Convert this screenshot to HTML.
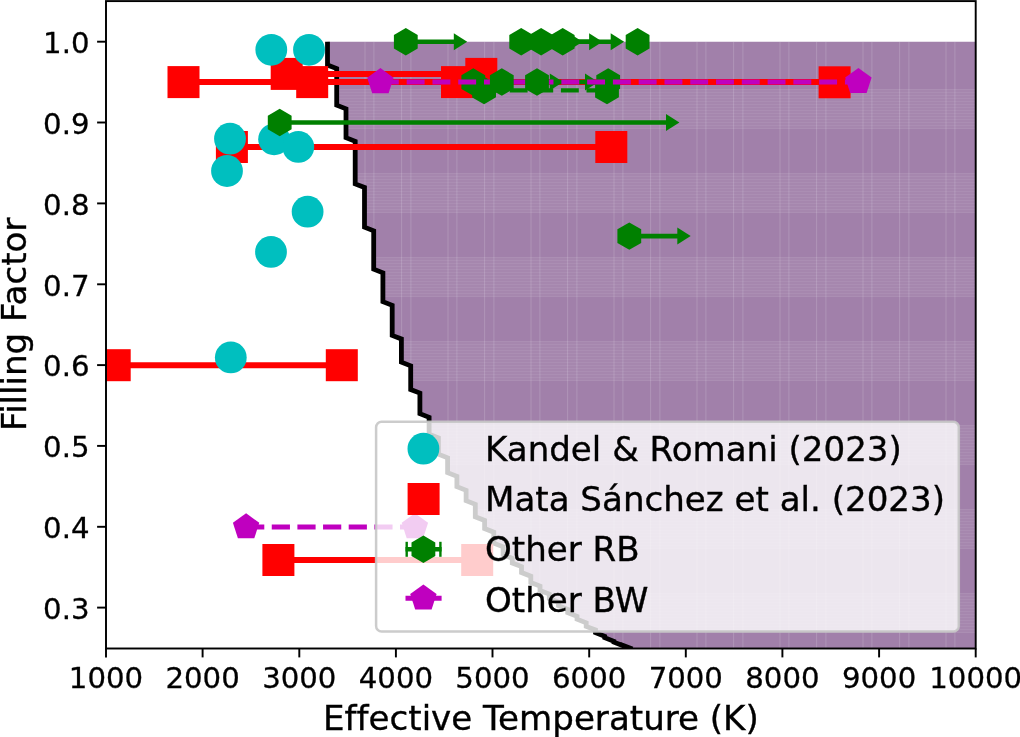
<!DOCTYPE html>
<html><head><meta charset="utf-8"><title>Filling Factor vs Effective Temperature</title>
<style>html,body{margin:0;padding:0;background:#fff}svg{display:block}</style></head>
<body>
<svg width="1020" height="737" viewBox="0 0 1020 737">
<defs>
<clipPath id="ax"><rect x="106.0" y="1.1" width="869.7" height="647.4"/></clipPath>
<clipPath id="reg"><polygon points="327.5,41.7 327.5,65.0 336.7,68.6 336.7,105.2 346.0,108.8 346.0,137.7 355.2,141.3 355.2,183.9 364.5,187.5 364.5,227.2 373.7,230.8 373.7,269.2 382.9,272.8 382.9,301.7 392.2,305.3 392.2,335.4 401.4,339.0 401.4,362.2 410.7,365.8 410.7,389.5 419.9,393.1 419.9,413.7 429.1,417.3 429.1,434.2 438.4,437.8 438.4,454.2 447.6,457.8 447.6,472.7 456.9,476.3 456.9,486.7 466.1,490.3 466.1,500.7 475.3,504.3 475.3,516.8 484.6,520.4 484.6,528.6 493.8,532.2 493.8,543.2 503.1,546.8 503.1,554.7 512.3,558.3 512.3,563.0 521.5,566.6 521.5,572.6 530.8,576.2 530.8,582.5 540.0,586.1 540.0,590.5 549.3,594.1 549.3,598.6 558.5,602.2 558.5,605.7 567.7,609.3 567.7,612.7 577.0,616.3 577.0,619.2 586.2,622.8 586.2,626.4 595.5,630.0 595.5,632.7 604.7,636.3 604.7,637.7 613.9,641.3 613.9,642.2 623.2,645.8 623.2,645.5 632.4,649.1 632.4,648.5 975.7,648.5 975.7,41.7"/></clipPath>
</defs>
<rect width="1020" height="737" fill="#fff"/>
<g clip-path="url(#ax)">
<polygon points="327.5,41.7 327.5,65.0 336.7,68.6 336.7,105.2 346.0,108.8 346.0,137.7 355.2,141.3 355.2,183.9 364.5,187.5 364.5,227.2 373.7,230.8 373.7,269.2 382.9,272.8 382.9,301.7 392.2,305.3 392.2,335.4 401.4,339.0 401.4,362.2 410.7,365.8 410.7,389.5 419.9,393.1 419.9,413.7 429.1,417.3 429.1,434.2 438.4,437.8 438.4,454.2 447.6,457.8 447.6,472.7 456.9,476.3 456.9,486.7 466.1,490.3 466.1,500.7 475.3,504.3 475.3,516.8 484.6,520.4 484.6,528.6 493.8,532.2 493.8,543.2 503.1,546.8 503.1,554.7 512.3,558.3 512.3,563.0 521.5,566.6 521.5,572.6 530.8,576.2 530.8,582.5 540.0,586.1 540.0,590.5 549.3,594.1 549.3,598.6 558.5,602.2 558.5,605.7 567.7,609.3 567.7,612.7 577.0,616.3 577.0,619.2 586.2,622.8 586.2,626.4 595.5,630.0 595.5,632.7 604.7,636.3 604.7,637.7 613.9,641.3 613.9,642.2 623.2,645.8 623.2,645.5 632.4,649.1 632.4,648.5 975.7,648.5 975.7,41.7" fill="#a180aa"/>
<g clip-path="url(#reg)" stroke="#fff" fill="none">
<line x1="365.0" y1="40" x2="365.0" y2="650" stroke-width="1" stroke-opacity="0.16"/>
<line x1="373.9" y1="40" x2="373.9" y2="650" stroke-width="1" stroke-opacity="0.16"/>
<line x1="327.9" y1="40" x2="327.9" y2="650" stroke-width="1" stroke-opacity="0.16"/>
<line x1="448.0" y1="40" x2="448.0" y2="650" stroke-width="1" stroke-opacity="0.16"/>
<line x1="456.9" y1="40" x2="456.9" y2="650" stroke-width="1" stroke-opacity="0.16"/>
<line x1="401.6" y1="40" x2="401.6" y2="650" stroke-width="1" stroke-opacity="0.16"/>
<line x1="410.9" y1="40" x2="410.9" y2="650" stroke-width="1" stroke-opacity="0.16"/>
<line x1="531.0" y1="40" x2="531.0" y2="650" stroke-width="1" stroke-opacity="0.16"/>
<line x1="539.9" y1="40" x2="539.9" y2="650" stroke-width="1" stroke-opacity="0.16"/>
<line x1="484.6" y1="40" x2="484.6" y2="650" stroke-width="1" stroke-opacity="0.16"/>
<line x1="493.9" y1="40" x2="493.9" y2="650" stroke-width="1" stroke-opacity="0.16"/>
<line x1="614.0" y1="40" x2="614.0" y2="650" stroke-width="1" stroke-opacity="0.16"/>
<line x1="622.9" y1="40" x2="622.9" y2="650" stroke-width="1" stroke-opacity="0.16"/>
<line x1="567.6" y1="40" x2="567.6" y2="650" stroke-width="1" stroke-opacity="0.16"/>
<line x1="576.9" y1="40" x2="576.9" y2="650" stroke-width="1" stroke-opacity="0.16"/>
<line x1="697.0" y1="40" x2="697.0" y2="650" stroke-width="1" stroke-opacity="0.16"/>
<line x1="705.9" y1="40" x2="705.9" y2="650" stroke-width="1" stroke-opacity="0.16"/>
<line x1="650.6" y1="40" x2="650.6" y2="650" stroke-width="1" stroke-opacity="0.16"/>
<line x1="659.9" y1="40" x2="659.9" y2="650" stroke-width="1" stroke-opacity="0.16"/>
<line x1="780.0" y1="40" x2="780.0" y2="650" stroke-width="1" stroke-opacity="0.16"/>
<line x1="788.9" y1="40" x2="788.9" y2="650" stroke-width="1" stroke-opacity="0.16"/>
<line x1="733.6" y1="40" x2="733.6" y2="650" stroke-width="1" stroke-opacity="0.16"/>
<line x1="742.9" y1="40" x2="742.9" y2="650" stroke-width="1" stroke-opacity="0.16"/>
<line x1="863.0" y1="40" x2="863.0" y2="650" stroke-width="1" stroke-opacity="0.16"/>
<line x1="871.9" y1="40" x2="871.9" y2="650" stroke-width="1" stroke-opacity="0.16"/>
<line x1="816.6" y1="40" x2="816.6" y2="650" stroke-width="1" stroke-opacity="0.16"/>
<line x1="825.9" y1="40" x2="825.9" y2="650" stroke-width="1" stroke-opacity="0.16"/>
<line x1="946.0" y1="40" x2="946.0" y2="650" stroke-width="1" stroke-opacity="0.16"/>
<line x1="954.9" y1="40" x2="954.9" y2="650" stroke-width="1" stroke-opacity="0.16"/>
<line x1="899.6" y1="40" x2="899.6" y2="650" stroke-width="1" stroke-opacity="0.16"/>
<line x1="908.9" y1="40" x2="908.9" y2="650" stroke-width="1" stroke-opacity="0.16"/>
<line x1="320" y1="89.50" x2="980" y2="89.50" stroke-width="0.5" stroke-opacity="0.22"/>
<line x1="320" y1="91.00" x2="980" y2="91.00" stroke-width="0.5" stroke-opacity="0.22"/>
<line x1="320" y1="92.50" x2="980" y2="92.50" stroke-width="0.5" stroke-opacity="0.22"/>
<line x1="320" y1="94.00" x2="980" y2="94.00" stroke-width="0.5" stroke-opacity="0.22"/>
<line x1="320" y1="95.50" x2="980" y2="95.50" stroke-width="0.5" stroke-opacity="0.22"/>
<line x1="320" y1="97.00" x2="980" y2="97.00" stroke-width="0.5" stroke-opacity="0.22"/>
<line x1="320" y1="98.50" x2="980" y2="98.50" stroke-width="0.5" stroke-opacity="0.22"/>
<line x1="320" y1="100.00" x2="980" y2="100.00" stroke-width="0.5" stroke-opacity="0.22"/>
<line x1="320" y1="101.50" x2="980" y2="101.50" stroke-width="0.5" stroke-opacity="0.22"/>
<line x1="320" y1="103.00" x2="980" y2="103.00" stroke-width="0.5" stroke-opacity="0.22"/>
<line x1="320" y1="104.50" x2="980" y2="104.50" stroke-width="0.5" stroke-opacity="0.22"/>
<line x1="320" y1="106.00" x2="980" y2="106.00" stroke-width="0.5" stroke-opacity="0.22"/>
<line x1="320" y1="107.50" x2="980" y2="107.50" stroke-width="0.5" stroke-opacity="0.22"/>
<line x1="320" y1="109.00" x2="980" y2="109.00" stroke-width="0.5" stroke-opacity="0.22"/>
<line x1="320" y1="110.50" x2="980" y2="110.50" stroke-width="0.5" stroke-opacity="0.22"/>
<line x1="320" y1="112.00" x2="980" y2="112.00" stroke-width="0.5" stroke-opacity="0.22"/>
<line x1="320" y1="113.50" x2="980" y2="113.50" stroke-width="0.5" stroke-opacity="0.22"/>
<line x1="320" y1="115.00" x2="980" y2="115.00" stroke-width="0.5" stroke-opacity="0.22"/>
<line x1="320" y1="116.50" x2="980" y2="116.50" stroke-width="0.5" stroke-opacity="0.22"/>
<line x1="320" y1="118.00" x2="980" y2="118.00" stroke-width="0.5" stroke-opacity="0.22"/>
<line x1="320" y1="119.50" x2="980" y2="119.50" stroke-width="0.5" stroke-opacity="0.22"/>
<line x1="320" y1="121.00" x2="980" y2="121.00" stroke-width="0.5" stroke-opacity="0.22"/>
<line x1="320" y1="122.50" x2="980" y2="122.50" stroke-width="0.5" stroke-opacity="0.22"/>
<line x1="320" y1="124.00" x2="980" y2="124.00" stroke-width="0.5" stroke-opacity="0.22"/>
<line x1="320" y1="125.50" x2="980" y2="125.50" stroke-width="0.5" stroke-opacity="0.22"/>
<line x1="320" y1="127.00" x2="980" y2="127.00" stroke-width="0.5" stroke-opacity="0.22"/>
<line x1="320" y1="128.50" x2="980" y2="128.50" stroke-width="0.5" stroke-opacity="0.22"/>
<line x1="320" y1="173.50" x2="980" y2="173.50" stroke-width="0.5" stroke-opacity="0.22"/>
<line x1="320" y1="175.00" x2="980" y2="175.00" stroke-width="0.5" stroke-opacity="0.22"/>
<line x1="320" y1="176.50" x2="980" y2="176.50" stroke-width="0.5" stroke-opacity="0.22"/>
<line x1="320" y1="178.00" x2="980" y2="178.00" stroke-width="0.5" stroke-opacity="0.22"/>
<line x1="320" y1="179.50" x2="980" y2="179.50" stroke-width="0.5" stroke-opacity="0.22"/>
<line x1="320" y1="181.00" x2="980" y2="181.00" stroke-width="0.5" stroke-opacity="0.22"/>
<line x1="320" y1="182.50" x2="980" y2="182.50" stroke-width="0.5" stroke-opacity="0.22"/>
<line x1="320" y1="184.00" x2="980" y2="184.00" stroke-width="0.5" stroke-opacity="0.22"/>
<line x1="320" y1="185.50" x2="980" y2="185.50" stroke-width="0.5" stroke-opacity="0.22"/>
<line x1="320" y1="187.00" x2="980" y2="187.00" stroke-width="0.5" stroke-opacity="0.22"/>
<line x1="320" y1="188.50" x2="980" y2="188.50" stroke-width="0.5" stroke-opacity="0.22"/>
<line x1="320" y1="190.00" x2="980" y2="190.00" stroke-width="0.5" stroke-opacity="0.22"/>
<line x1="320" y1="191.50" x2="980" y2="191.50" stroke-width="0.5" stroke-opacity="0.22"/>
<line x1="320" y1="193.00" x2="980" y2="193.00" stroke-width="0.5" stroke-opacity="0.22"/>
<line x1="320" y1="194.50" x2="980" y2="194.50" stroke-width="0.5" stroke-opacity="0.22"/>
<line x1="320" y1="196.00" x2="980" y2="196.00" stroke-width="0.5" stroke-opacity="0.22"/>
<line x1="320" y1="197.50" x2="980" y2="197.50" stroke-width="0.5" stroke-opacity="0.22"/>
<line x1="320" y1="199.00" x2="980" y2="199.00" stroke-width="0.5" stroke-opacity="0.22"/>
<line x1="320" y1="200.50" x2="980" y2="200.50" stroke-width="0.5" stroke-opacity="0.22"/>
<line x1="320" y1="202.00" x2="980" y2="202.00" stroke-width="0.5" stroke-opacity="0.22"/>
<line x1="320" y1="203.50" x2="980" y2="203.50" stroke-width="0.5" stroke-opacity="0.22"/>
<line x1="320" y1="205.00" x2="980" y2="205.00" stroke-width="0.5" stroke-opacity="0.22"/>
<line x1="320" y1="206.50" x2="980" y2="206.50" stroke-width="0.5" stroke-opacity="0.22"/>
<line x1="320" y1="208.00" x2="980" y2="208.00" stroke-width="0.5" stroke-opacity="0.22"/>
<line x1="320" y1="209.50" x2="980" y2="209.50" stroke-width="0.5" stroke-opacity="0.22"/>
<line x1="320" y1="211.00" x2="980" y2="211.00" stroke-width="0.5" stroke-opacity="0.22"/>
<line x1="320" y1="212.50" x2="980" y2="212.50" stroke-width="0.5" stroke-opacity="0.22"/>
<line x1="320" y1="257.50" x2="980" y2="257.50" stroke-width="0.5" stroke-opacity="0.22"/>
<line x1="320" y1="259.00" x2="980" y2="259.00" stroke-width="0.5" stroke-opacity="0.22"/>
<line x1="320" y1="260.50" x2="980" y2="260.50" stroke-width="0.5" stroke-opacity="0.22"/>
<line x1="320" y1="262.00" x2="980" y2="262.00" stroke-width="0.5" stroke-opacity="0.22"/>
<line x1="320" y1="263.50" x2="980" y2="263.50" stroke-width="0.5" stroke-opacity="0.22"/>
<line x1="320" y1="265.00" x2="980" y2="265.00" stroke-width="0.5" stroke-opacity="0.22"/>
<line x1="320" y1="266.50" x2="980" y2="266.50" stroke-width="0.5" stroke-opacity="0.22"/>
<line x1="320" y1="268.00" x2="980" y2="268.00" stroke-width="0.5" stroke-opacity="0.22"/>
<line x1="320" y1="269.50" x2="980" y2="269.50" stroke-width="0.5" stroke-opacity="0.22"/>
<line x1="320" y1="271.00" x2="980" y2="271.00" stroke-width="0.5" stroke-opacity="0.22"/>
<line x1="320" y1="272.50" x2="980" y2="272.50" stroke-width="0.5" stroke-opacity="0.22"/>
<line x1="320" y1="274.00" x2="980" y2="274.00" stroke-width="0.5" stroke-opacity="0.22"/>
<line x1="320" y1="275.50" x2="980" y2="275.50" stroke-width="0.5" stroke-opacity="0.22"/>
<line x1="320" y1="277.00" x2="980" y2="277.00" stroke-width="0.5" stroke-opacity="0.22"/>
<line x1="320" y1="278.50" x2="980" y2="278.50" stroke-width="0.5" stroke-opacity="0.22"/>
<line x1="320" y1="280.00" x2="980" y2="280.00" stroke-width="0.5" stroke-opacity="0.22"/>
<line x1="320" y1="281.50" x2="980" y2="281.50" stroke-width="0.5" stroke-opacity="0.22"/>
<line x1="320" y1="283.00" x2="980" y2="283.00" stroke-width="0.5" stroke-opacity="0.22"/>
<line x1="320" y1="284.50" x2="980" y2="284.50" stroke-width="0.5" stroke-opacity="0.22"/>
<line x1="320" y1="286.00" x2="980" y2="286.00" stroke-width="0.5" stroke-opacity="0.22"/>
<line x1="320" y1="287.50" x2="980" y2="287.50" stroke-width="0.5" stroke-opacity="0.22"/>
<line x1="320" y1="289.00" x2="980" y2="289.00" stroke-width="0.5" stroke-opacity="0.22"/>
<line x1="320" y1="290.50" x2="980" y2="290.50" stroke-width="0.5" stroke-opacity="0.22"/>
<line x1="320" y1="292.00" x2="980" y2="292.00" stroke-width="0.5" stroke-opacity="0.22"/>
<line x1="320" y1="293.50" x2="980" y2="293.50" stroke-width="0.5" stroke-opacity="0.22"/>
<line x1="320" y1="295.00" x2="980" y2="295.00" stroke-width="0.5" stroke-opacity="0.22"/>
<line x1="320" y1="296.50" x2="980" y2="296.50" stroke-width="0.5" stroke-opacity="0.22"/>
<line x1="320" y1="341.50" x2="980" y2="341.50" stroke-width="0.5" stroke-opacity="0.22"/>
<line x1="320" y1="343.00" x2="980" y2="343.00" stroke-width="0.5" stroke-opacity="0.22"/>
<line x1="320" y1="344.50" x2="980" y2="344.50" stroke-width="0.5" stroke-opacity="0.22"/>
<line x1="320" y1="346.00" x2="980" y2="346.00" stroke-width="0.5" stroke-opacity="0.22"/>
<line x1="320" y1="347.50" x2="980" y2="347.50" stroke-width="0.5" stroke-opacity="0.22"/>
<line x1="320" y1="349.00" x2="980" y2="349.00" stroke-width="0.5" stroke-opacity="0.22"/>
<line x1="320" y1="350.50" x2="980" y2="350.50" stroke-width="0.5" stroke-opacity="0.22"/>
<line x1="320" y1="352.00" x2="980" y2="352.00" stroke-width="0.5" stroke-opacity="0.22"/>
<line x1="320" y1="353.50" x2="980" y2="353.50" stroke-width="0.5" stroke-opacity="0.22"/>
<line x1="320" y1="355.00" x2="980" y2="355.00" stroke-width="0.5" stroke-opacity="0.22"/>
<line x1="320" y1="356.50" x2="980" y2="356.50" stroke-width="0.5" stroke-opacity="0.22"/>
<line x1="320" y1="358.00" x2="980" y2="358.00" stroke-width="0.5" stroke-opacity="0.22"/>
<line x1="320" y1="359.50" x2="980" y2="359.50" stroke-width="0.5" stroke-opacity="0.22"/>
<line x1="320" y1="361.00" x2="980" y2="361.00" stroke-width="0.5" stroke-opacity="0.22"/>
<line x1="320" y1="362.50" x2="980" y2="362.50" stroke-width="0.5" stroke-opacity="0.22"/>
<line x1="320" y1="364.00" x2="980" y2="364.00" stroke-width="0.5" stroke-opacity="0.22"/>
<line x1="320" y1="365.50" x2="980" y2="365.50" stroke-width="0.5" stroke-opacity="0.22"/>
<line x1="320" y1="367.00" x2="980" y2="367.00" stroke-width="0.5" stroke-opacity="0.22"/>
<line x1="320" y1="368.50" x2="980" y2="368.50" stroke-width="0.5" stroke-opacity="0.22"/>
<line x1="320" y1="370.00" x2="980" y2="370.00" stroke-width="0.5" stroke-opacity="0.22"/>
<line x1="320" y1="371.50" x2="980" y2="371.50" stroke-width="0.5" stroke-opacity="0.22"/>
<line x1="320" y1="373.00" x2="980" y2="373.00" stroke-width="0.5" stroke-opacity="0.22"/>
<line x1="320" y1="374.50" x2="980" y2="374.50" stroke-width="0.5" stroke-opacity="0.22"/>
<line x1="320" y1="376.00" x2="980" y2="376.00" stroke-width="0.5" stroke-opacity="0.22"/>
<line x1="320" y1="377.50" x2="980" y2="377.50" stroke-width="0.5" stroke-opacity="0.22"/>
<line x1="320" y1="379.00" x2="980" y2="379.00" stroke-width="0.5" stroke-opacity="0.22"/>
<line x1="320" y1="380.50" x2="980" y2="380.50" stroke-width="0.5" stroke-opacity="0.22"/>
<line x1="320" y1="425.50" x2="980" y2="425.50" stroke-width="0.5" stroke-opacity="0.22"/>
<line x1="320" y1="427.00" x2="980" y2="427.00" stroke-width="0.5" stroke-opacity="0.22"/>
<line x1="320" y1="428.50" x2="980" y2="428.50" stroke-width="0.5" stroke-opacity="0.22"/>
<line x1="320" y1="430.00" x2="980" y2="430.00" stroke-width="0.5" stroke-opacity="0.22"/>
<line x1="320" y1="431.50" x2="980" y2="431.50" stroke-width="0.5" stroke-opacity="0.22"/>
<line x1="320" y1="433.00" x2="980" y2="433.00" stroke-width="0.5" stroke-opacity="0.22"/>
<line x1="320" y1="434.50" x2="980" y2="434.50" stroke-width="0.5" stroke-opacity="0.22"/>
<line x1="320" y1="436.00" x2="980" y2="436.00" stroke-width="0.5" stroke-opacity="0.22"/>
<line x1="320" y1="437.50" x2="980" y2="437.50" stroke-width="0.5" stroke-opacity="0.22"/>
<line x1="320" y1="439.00" x2="980" y2="439.00" stroke-width="0.5" stroke-opacity="0.22"/>
<line x1="320" y1="440.50" x2="980" y2="440.50" stroke-width="0.5" stroke-opacity="0.22"/>
<line x1="320" y1="442.00" x2="980" y2="442.00" stroke-width="0.5" stroke-opacity="0.22"/>
<line x1="320" y1="443.50" x2="980" y2="443.50" stroke-width="0.5" stroke-opacity="0.22"/>
<line x1="320" y1="445.00" x2="980" y2="445.00" stroke-width="0.5" stroke-opacity="0.22"/>
<line x1="320" y1="446.50" x2="980" y2="446.50" stroke-width="0.5" stroke-opacity="0.22"/>
<line x1="320" y1="448.00" x2="980" y2="448.00" stroke-width="0.5" stroke-opacity="0.22"/>
<line x1="320" y1="449.50" x2="980" y2="449.50" stroke-width="0.5" stroke-opacity="0.22"/>
<line x1="320" y1="451.00" x2="980" y2="451.00" stroke-width="0.5" stroke-opacity="0.22"/>
<line x1="320" y1="452.50" x2="980" y2="452.50" stroke-width="0.5" stroke-opacity="0.22"/>
<line x1="320" y1="454.00" x2="980" y2="454.00" stroke-width="0.5" stroke-opacity="0.22"/>
<line x1="320" y1="455.50" x2="980" y2="455.50" stroke-width="0.5" stroke-opacity="0.22"/>
<line x1="320" y1="457.00" x2="980" y2="457.00" stroke-width="0.5" stroke-opacity="0.22"/>
<line x1="320" y1="458.50" x2="980" y2="458.50" stroke-width="0.5" stroke-opacity="0.22"/>
<line x1="320" y1="460.00" x2="980" y2="460.00" stroke-width="0.5" stroke-opacity="0.22"/>
<line x1="320" y1="461.50" x2="980" y2="461.50" stroke-width="0.5" stroke-opacity="0.22"/>
<line x1="320" y1="463.00" x2="980" y2="463.00" stroke-width="0.5" stroke-opacity="0.22"/>
<line x1="320" y1="464.50" x2="980" y2="464.50" stroke-width="0.5" stroke-opacity="0.22"/>
<line x1="320" y1="509.50" x2="980" y2="509.50" stroke-width="0.5" stroke-opacity="0.22"/>
<line x1="320" y1="511.00" x2="980" y2="511.00" stroke-width="0.5" stroke-opacity="0.22"/>
<line x1="320" y1="512.50" x2="980" y2="512.50" stroke-width="0.5" stroke-opacity="0.22"/>
<line x1="320" y1="514.00" x2="980" y2="514.00" stroke-width="0.5" stroke-opacity="0.22"/>
<line x1="320" y1="515.50" x2="980" y2="515.50" stroke-width="0.5" stroke-opacity="0.22"/>
<line x1="320" y1="517.00" x2="980" y2="517.00" stroke-width="0.5" stroke-opacity="0.22"/>
<line x1="320" y1="518.50" x2="980" y2="518.50" stroke-width="0.5" stroke-opacity="0.22"/>
<line x1="320" y1="520.00" x2="980" y2="520.00" stroke-width="0.5" stroke-opacity="0.22"/>
<line x1="320" y1="521.50" x2="980" y2="521.50" stroke-width="0.5" stroke-opacity="0.22"/>
<line x1="320" y1="523.00" x2="980" y2="523.00" stroke-width="0.5" stroke-opacity="0.22"/>
<line x1="320" y1="524.50" x2="980" y2="524.50" stroke-width="0.5" stroke-opacity="0.22"/>
<line x1="320" y1="526.00" x2="980" y2="526.00" stroke-width="0.5" stroke-opacity="0.22"/>
<line x1="320" y1="527.50" x2="980" y2="527.50" stroke-width="0.5" stroke-opacity="0.22"/>
<line x1="320" y1="529.00" x2="980" y2="529.00" stroke-width="0.5" stroke-opacity="0.22"/>
<line x1="320" y1="530.50" x2="980" y2="530.50" stroke-width="0.5" stroke-opacity="0.22"/>
<line x1="320" y1="532.00" x2="980" y2="532.00" stroke-width="0.5" stroke-opacity="0.22"/>
<line x1="320" y1="533.50" x2="980" y2="533.50" stroke-width="0.5" stroke-opacity="0.22"/>
<line x1="320" y1="535.00" x2="980" y2="535.00" stroke-width="0.5" stroke-opacity="0.22"/>
<line x1="320" y1="536.50" x2="980" y2="536.50" stroke-width="0.5" stroke-opacity="0.22"/>
<line x1="320" y1="538.00" x2="980" y2="538.00" stroke-width="0.5" stroke-opacity="0.22"/>
<line x1="320" y1="539.50" x2="980" y2="539.50" stroke-width="0.5" stroke-opacity="0.22"/>
<line x1="320" y1="541.00" x2="980" y2="541.00" stroke-width="0.5" stroke-opacity="0.22"/>
<line x1="320" y1="542.50" x2="980" y2="542.50" stroke-width="0.5" stroke-opacity="0.22"/>
<line x1="320" y1="544.00" x2="980" y2="544.00" stroke-width="0.5" stroke-opacity="0.22"/>
<line x1="320" y1="545.50" x2="980" y2="545.50" stroke-width="0.5" stroke-opacity="0.22"/>
<line x1="320" y1="547.00" x2="980" y2="547.00" stroke-width="0.5" stroke-opacity="0.22"/>
<line x1="320" y1="548.50" x2="980" y2="548.50" stroke-width="0.5" stroke-opacity="0.22"/>
<line x1="320" y1="593.50" x2="980" y2="593.50" stroke-width="0.5" stroke-opacity="0.22"/>
<line x1="320" y1="595.00" x2="980" y2="595.00" stroke-width="0.5" stroke-opacity="0.22"/>
<line x1="320" y1="596.50" x2="980" y2="596.50" stroke-width="0.5" stroke-opacity="0.22"/>
<line x1="320" y1="598.00" x2="980" y2="598.00" stroke-width="0.5" stroke-opacity="0.22"/>
<line x1="320" y1="599.50" x2="980" y2="599.50" stroke-width="0.5" stroke-opacity="0.22"/>
<line x1="320" y1="601.00" x2="980" y2="601.00" stroke-width="0.5" stroke-opacity="0.22"/>
<line x1="320" y1="602.50" x2="980" y2="602.50" stroke-width="0.5" stroke-opacity="0.22"/>
<line x1="320" y1="604.00" x2="980" y2="604.00" stroke-width="0.5" stroke-opacity="0.22"/>
<line x1="320" y1="605.50" x2="980" y2="605.50" stroke-width="0.5" stroke-opacity="0.22"/>
<line x1="320" y1="607.00" x2="980" y2="607.00" stroke-width="0.5" stroke-opacity="0.22"/>
<line x1="320" y1="608.50" x2="980" y2="608.50" stroke-width="0.5" stroke-opacity="0.22"/>
<line x1="320" y1="610.00" x2="980" y2="610.00" stroke-width="0.5" stroke-opacity="0.22"/>
<line x1="320" y1="611.50" x2="980" y2="611.50" stroke-width="0.5" stroke-opacity="0.22"/>
<line x1="320" y1="613.00" x2="980" y2="613.00" stroke-width="0.5" stroke-opacity="0.22"/>
<line x1="320" y1="614.50" x2="980" y2="614.50" stroke-width="0.5" stroke-opacity="0.22"/>
<line x1="320" y1="616.00" x2="980" y2="616.00" stroke-width="0.5" stroke-opacity="0.22"/>
<line x1="320" y1="617.50" x2="980" y2="617.50" stroke-width="0.5" stroke-opacity="0.22"/>
<line x1="320" y1="619.00" x2="980" y2="619.00" stroke-width="0.5" stroke-opacity="0.22"/>
<line x1="320" y1="620.50" x2="980" y2="620.50" stroke-width="0.5" stroke-opacity="0.22"/>
<line x1="320" y1="622.00" x2="980" y2="622.00" stroke-width="0.5" stroke-opacity="0.22"/>
<line x1="320" y1="623.50" x2="980" y2="623.50" stroke-width="0.5" stroke-opacity="0.22"/>
<line x1="320" y1="625.00" x2="980" y2="625.00" stroke-width="0.5" stroke-opacity="0.22"/>
<line x1="320" y1="626.50" x2="980" y2="626.50" stroke-width="0.5" stroke-opacity="0.22"/>
<line x1="320" y1="628.00" x2="980" y2="628.00" stroke-width="0.5" stroke-opacity="0.22"/>
<line x1="320" y1="629.50" x2="980" y2="629.50" stroke-width="0.5" stroke-opacity="0.22"/>
<line x1="320" y1="631.00" x2="980" y2="631.00" stroke-width="0.5" stroke-opacity="0.22"/>
<line x1="320" y1="632.50" x2="980" y2="632.50" stroke-width="0.5" stroke-opacity="0.22"/>
</g>
<path d="M327.5 41.7 L327.5 65.0 L336.7 68.6 L336.7 105.2 L346.0 108.8 L346.0 137.7 L355.2 141.3 L355.2 183.9 L364.5 187.5 L364.5 227.2 L373.7 230.8 L373.7 269.2 L382.9 272.8 L382.9 301.7 L392.2 305.3 L392.2 335.4 L401.4 339.0 L401.4 362.2 L410.7 365.8 L410.7 389.5 L419.9 393.1 L419.9 413.7 L429.1 417.3 L429.1 434.2 L438.4 437.8 L438.4 454.2 L447.6 457.8 L447.6 472.7 L456.9 476.3 L456.9 486.7 L466.1 490.3 L466.1 500.7 L475.3 504.3 L475.3 516.8 L484.6 520.4 L484.6 528.6 L493.8 532.2 L493.8 543.2 L503.1 546.8 L503.1 554.7 L512.3 558.3 L512.3 563.0 L521.5 566.6 L521.5 572.6 L530.8 576.2 L530.8 582.5 L540.0 586.1 L540.0 590.5 L549.3 594.1 L549.3 598.6 L558.5 602.2 L558.5 605.7 L567.7 609.3 L567.7 612.7 L577.0 616.3 L577.0 619.2 L586.2 622.8 L586.2 626.4 L595.5 630.0 L595.5 632.7 L604.7 636.3 L604.7 637.7 L613.9 641.3 L613.9 642.2 L623.2 645.8 L623.2 645.5 L632.4 649.1 L632.4 648.5" fill="none" stroke="#000" stroke-width="4.8" stroke-linejoin="miter"/>
<line x1="183.5" y1="82.1" x2="835.0" y2="82.1" stroke="#ff0000" stroke-width="6.0"/>
<line x1="286.7" y1="73.9" x2="481.3" y2="73.9" stroke="#ff0000" stroke-width="6.0"/>
<line x1="231.9" y1="147.0" x2="611.3" y2="147.0" stroke="#ff0000" stroke-width="6.0"/>
<line x1="114.7" y1="365.2" x2="341.8" y2="365.2" stroke="#ff0000" stroke-width="6.0"/>
<line x1="278.4" y1="560.0" x2="477.2" y2="560.0" stroke="#ff0000" stroke-width="6.0"/>
<rect x="167.5" y="66.1" width="32.0" height="32.0" fill="#ff0000"/>
<rect x="296.2" y="66.1" width="32.0" height="32.0" fill="#ff0000"/>
<rect x="441.0" y="66.1" width="32.0" height="32.0" fill="#ff0000"/>
<rect x="818.6" y="66.3" width="32.0" height="32.0" fill="#ff0000"/>
<rect x="270.7" y="57.9" width="32.0" height="32.0" fill="#ff0000"/>
<rect x="465.3" y="57.9" width="32.0" height="32.0" fill="#ff0000"/>
<rect x="215.9" y="131.0" width="32.0" height="32.0" fill="#ff0000"/>
<rect x="595.3" y="131.0" width="32.0" height="32.0" fill="#ff0000"/>
<rect x="98.7" y="349.2" width="32.0" height="32.0" fill="#ff0000"/>
<rect x="325.8" y="349.2" width="32.0" height="32.0" fill="#ff0000"/>
<rect x="262.4" y="544.0" width="32.0" height="32.0" fill="#ff0000"/>
<rect x="461.2" y="544.0" width="32.0" height="32.0" fill="#ff0000"/>
<circle cx="271.3" cy="49.8" r="15.9" fill="#00bfbf"/>
<circle cx="309.0" cy="49.8" r="15.9" fill="#00bfbf"/>
<circle cx="230.0" cy="138.7" r="15.9" fill="#00bfbf"/>
<circle cx="274.1" cy="139.3" r="15.9" fill="#00bfbf"/>
<circle cx="298.3" cy="146.9" r="15.9" fill="#00bfbf"/>
<circle cx="227.0" cy="171.0" r="15.9" fill="#00bfbf"/>
<circle cx="307.6" cy="211.7" r="15.9" fill="#00bfbf"/>
<circle cx="271.0" cy="251.9" r="15.9" fill="#00bfbf"/>
<circle cx="230.8" cy="357.4" r="15.9" fill="#00bfbf"/>
<line x1="405.8" y1="41.7" x2="454.8" y2="41.7" stroke="#008000" stroke-width="4.6"/><polygon points="453.8,33.2 467.2,41.7 453.8,50.2" fill="#008000"/>
<polygon points="405.8,28.0 417.7,34.9 417.7,48.5 405.8,55.4 393.9,48.6 393.9,34.9" fill="#008000"/>
<line x1="521.2" y1="41.7" x2="570.2" y2="41.7" stroke="#008000" stroke-width="4.6"/><polygon points="569.2,33.2 582.6,41.7 569.2,50.2" fill="#008000"/>
<line x1="541.1" y1="41.7" x2="590.1" y2="41.7" stroke="#008000" stroke-width="4.6"/><polygon points="589.1,33.2 602.5,41.7 589.1,50.2" fill="#008000"/>
<line x1="562.7" y1="41.7" x2="611.7" y2="41.7" stroke="#008000" stroke-width="4.6"/><polygon points="610.7,33.2 624.1,41.7 610.7,50.2" fill="#008000"/>
<polygon points="521.2,28.0 533.1,34.9 533.1,48.5 521.2,55.4 509.3,48.6 509.3,34.9" fill="#008000"/>
<polygon points="541.1,28.0 553.0,34.9 553.0,48.5 541.1,55.4 529.2,48.6 529.2,34.9" fill="#008000"/>
<polygon points="562.7,28.0 574.6,34.9 574.6,48.5 562.7,55.4 550.8,48.6 550.8,34.9" fill="#008000"/>
<polygon points="637.6,28.0 649.5,34.9 649.5,48.5 637.6,55.4 625.7,48.6 625.7,34.9" fill="#008000"/>
<line x1="279.7" y1="122.5" x2="667.0" y2="122.5" stroke="#008000" stroke-width="4.6"/><polygon points="666.0,114.0 679.4,122.5 666.0,131.0" fill="#008000"/>
<polygon points="279.7,108.8 291.6,115.7 291.6,129.3 279.7,136.2 267.8,129.3 267.8,115.7" fill="#008000"/>
<line x1="629.3" y1="236.1" x2="678.3" y2="236.1" stroke="#008000" stroke-width="4.6"/><polygon points="677.3,227.6 690.7,236.1 677.3,244.6" fill="#008000"/>
<polygon points="629.3,222.4 641.2,229.2 641.2,242.9 629.3,249.8 617.4,242.9 617.4,229.2" fill="#008000"/>
<line x1="484.1" y1="90.4" x2="607.0" y2="90.4" stroke="#008000" stroke-width="4.3" stroke-dasharray="17.9 7.7"/>
<line x1="501.8" y1="82.0" x2="550.8" y2="82.0" stroke="#008000" stroke-width="4.6"/><polygon points="549.8,73.5 563.2,82.0 549.8,90.5" fill="#008000"/>
<line x1="537.0" y1="82.0" x2="586.0" y2="82.0" stroke="#008000" stroke-width="4.6"/><polygon points="585.0,73.5 598.4,82.0 585.0,90.5" fill="#008000"/>
<polygon points="473.3,68.3 485.2,75.2 485.2,88.8 473.3,95.7 461.4,88.9 461.4,75.2" fill="#008000"/>
<polygon points="484.1,76.8 496.0,83.7 496.0,97.3 484.1,104.2 472.2,97.4 472.2,83.7" fill="#008000"/>
<polygon points="608.2,68.3 620.1,75.2 620.1,88.8 608.2,95.7 596.3,88.9 596.3,75.2" fill="#008000"/>
<polygon points="607.0,76.8 618.9,83.7 618.9,97.3 607.0,104.2 595.1,97.4 595.1,83.7" fill="#008000"/>
<line x1="379.0" y1="82.0" x2="858.4" y2="82.0" stroke="#bf00bf" stroke-width="5.0" stroke-dasharray="17.9 7.88" stroke-dashoffset="23.88"/>
<polygon points="380.4,68.1 393.6,77.7 388.6,93.2 372.2,93.2 367.2,77.7" fill="#bf00bf"/>
<polygon points="858.4,67.9 871.6,77.5 866.6,93.0 850.2,93.0 845.2,77.5" fill="#bf00bf"/>
<line x1="246.1" y1="527.1" x2="414.9" y2="527.1" stroke="#bf00bf" stroke-width="5.0" stroke-dasharray="18.2 7.45"/>
<polygon points="246.1,513.2 259.3,522.8 254.3,538.3 237.9,538.3 232.9,522.8" fill="#bf00bf"/>
<polygon points="414.9,513.2 428.1,522.8 423.1,538.3 406.7,538.3 401.7,522.8" fill="#bf00bf"/>
<polygon points="501.8,68.3 513.7,75.2 513.7,88.8 501.8,95.7 489.9,88.9 489.9,75.2" fill="#008000"/>
<polygon points="537.0,68.3 548.9,75.2 548.9,88.8 537.0,95.7 525.1,88.9 525.1,75.2" fill="#008000"/>
</g>
<rect x="376.1" y="421.7" width="582.7" height="209.9" rx="5.5" ry="5.5" fill="#fff" fill-opacity="0.8" stroke="#c6c6c6" stroke-opacity="0.9" stroke-width="2.5"/>
<circle cx="423.4" cy="448.7" r="15.9" fill="#00bfbf"/>
<rect x="407.6" y="483.0" width="32.0" height="32.0" fill="#ff0000"/>
<line x1="405.5" y1="549.3" x2="441.6" y2="549.3" stroke="#008000" stroke-width="4.6"/>
<line x1="406.7" y1="541.8" x2="406.7" y2="556.8" stroke="#008000" stroke-width="2.4"/>
<line x1="440.4" y1="541.8" x2="440.4" y2="556.8" stroke="#008000" stroke-width="2.4"/>
<polygon points="423.4,535.6 435.3,542.4 435.3,556.1 423.4,563.0 411.5,556.1 411.5,542.4" fill="#008000"/>
<line x1="405.5" y1="598.3" x2="441.6" y2="598.3" stroke="#bf00bf" stroke-width="5.0" stroke-dasharray="18.2 7.45"/>
<polygon points="423.4,584.4 436.6,594.0 431.6,609.5 415.2,609.5 410.2,594.0" fill="#bf00bf"/>
<g style="font-variant-ligatures:none;font-feature-settings:'liga' 0,'clig' 0;font-family:'DejaVu Sans','Liberation Sans',sans-serif;font-size:34.1px" fill="#000" stroke="#000" stroke-width="0.35">
<text x="485.0" y="460.8">Kandel &amp; Romani (2023)</text>
<text x="485.0" y="510.7">Mata Sánchez et al. (2023)</text>
<text x="485.0" y="561.2">Other RB</text>
<text x="485.0" y="611.6">Other BW</text>
</g>
<rect x="106.0" y="1.1" width="869.7" height="647.4" fill="none" stroke="#000" stroke-width="1.93"/>
<g stroke="#000" stroke-width="1.93">
<line x1="106.0" y1="648.5" x2="106.0" y2="657.4"/>
<line x1="202.6" y1="648.5" x2="202.6" y2="657.4"/>
<line x1="299.3" y1="648.5" x2="299.3" y2="657.4"/>
<line x1="395.9" y1="648.5" x2="395.9" y2="657.4"/>
<line x1="492.5" y1="648.5" x2="492.5" y2="657.4"/>
<line x1="589.2" y1="648.5" x2="589.2" y2="657.4"/>
<line x1="685.8" y1="648.5" x2="685.8" y2="657.4"/>
<line x1="782.4" y1="648.5" x2="782.4" y2="657.4"/>
<line x1="879.1" y1="648.5" x2="879.1" y2="657.4"/>
<line x1="975.7" y1="648.5" x2="975.7" y2="657.4"/>
<line x1="97.1" y1="607.6" x2="106.0" y2="607.6"/>
<line x1="97.1" y1="526.8" x2="106.0" y2="526.8"/>
<line x1="97.1" y1="445.9" x2="106.0" y2="445.9"/>
<line x1="97.1" y1="365.1" x2="106.0" y2="365.1"/>
<line x1="97.1" y1="284.3" x2="106.0" y2="284.3"/>
<line x1="97.1" y1="203.4" x2="106.0" y2="203.4"/>
<line x1="97.1" y1="122.5" x2="106.0" y2="122.5"/>
<line x1="97.1" y1="41.7" x2="106.0" y2="41.7"/>
</g>
<g style="font-variant-ligatures:none;font-feature-settings:'liga' 0,'clig' 0;font-family:'DejaVu Sans','Liberation Sans',sans-serif;font-size:29.2px" fill="#000" stroke="#000" stroke-width="0.3">
<text x="106.0" y="688.2" text-anchor="middle">1000</text>
<text x="202.6" y="688.2" text-anchor="middle">2000</text>
<text x="299.3" y="688.2" text-anchor="middle">3000</text>
<text x="395.9" y="688.2" text-anchor="middle">4000</text>
<text x="492.5" y="688.2" text-anchor="middle">5000</text>
<text x="589.2" y="688.2" text-anchor="middle">6000</text>
<text x="685.8" y="688.2" text-anchor="middle">7000</text>
<text x="782.4" y="688.2" text-anchor="middle">8000</text>
<text x="879.1" y="688.2" text-anchor="middle">9000</text>
<text x="975.7" y="688.2" text-anchor="middle">10000</text>
<text x="89.5" y="618.9" text-anchor="end">0.3</text>
<text x="89.5" y="538.1" text-anchor="end">0.4</text>
<text x="89.5" y="457.2" text-anchor="end">0.5</text>
<text x="89.5" y="376.4" text-anchor="end">0.6</text>
<text x="89.5" y="295.6" text-anchor="end">0.7</text>
<text x="89.5" y="214.7" text-anchor="end">0.8</text>
<text x="89.5" y="133.8" text-anchor="end">0.9</text>
<text x="89.5" y="53.0" text-anchor="end">1.0</text>
</g>
<g style="font-variant-ligatures:none;font-feature-settings:'liga' 0,'clig' 0;font-family:'DejaVu Sans','Liberation Sans',sans-serif;font-size:34.1px" fill="#000" stroke="#000" stroke-width="0.35">
<text x="540.9" y="730" text-anchor="middle">Effective Temperature (K)</text>
<text transform="translate(26.2,324.3) rotate(-90)" text-anchor="middle">Filling Factor</text>
</g>
</svg>
</body></html>
